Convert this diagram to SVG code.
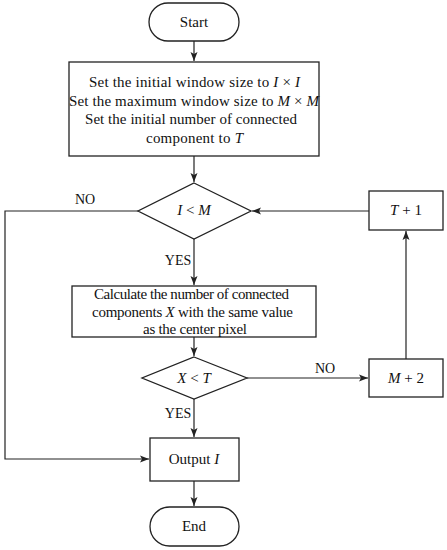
<svg xmlns="http://www.w3.org/2000/svg" width="447" height="550" viewBox="0 0 447 550">
<defs>
<style>
.s{fill:#fff;stroke:#222;stroke-width:1.3}
.c{fill:none;stroke:#222;stroke-width:1.2}
text{font-family:"Liberation Serif","DejaVu Serif",serif;font-size:15px;fill:#111;text-anchor:middle}
.i{font-style:italic}
.l{font-size:14px}
</style>
<marker id="a" markerWidth="10" markerHeight="8" refX="9" refY="4" orient="auto" markerUnits="userSpaceOnUse">
<path d="M0,0.5 L9,4 L0,7.5 L2,4 Z" fill="#222"/>
</marker>
</defs>
<rect width="447" height="550" fill="#fff"/>
<g id="connectors">
<line class="c" x1="194" y1="41" x2="194" y2="61" marker-end="url(#a)"/>
<line class="c" x1="194" y1="156" x2="194" y2="182" marker-end="url(#a)"/>
<line class="c" x1="194" y1="239" x2="194" y2="285" marker-end="url(#a)"/>
<line class="c" x1="194" y1="337" x2="194" y2="356" marker-end="url(#a)"/>
<line class="c" x1="194" y1="399" x2="194" y2="437" marker-end="url(#a)"/>
<line class="c" x1="194" y1="481" x2="194" y2="506" marker-end="url(#a)"/>
<polyline class="c" points="138,211 5,211 5,459 149,459" marker-end="url(#a)"/>
<line class="c" x1="369" y1="211" x2="252" y2="211" marker-end="url(#a)"/>
<line class="c" x1="247" y1="378" x2="368" y2="378" marker-end="url(#a)"/>
<line class="c" x1="406" y1="359" x2="406" y2="231" marker-end="url(#a)"/>
<text class="l" x="85" y="204">NO</text>
<text class="l" x="178" y="265">YES</text>
<text class="l" x="325" y="373">NO</text>
<text class="l" x="178" y="418">YES</text>
</g>
<g id="start">
<rect class="s" x="149" y="3" width="90" height="38" rx="19"/>
<text x="194" y="27">Start</text>
</g>
<g id="init">
<rect class="s" x="69" y="62" width="250" height="94"/>
<text x="194.5" y="87" textLength="211" lengthAdjust="spacing">Set the initial window size to <tspan class="i">I</tspan> × <tspan class="i">I</tspan></text>
<text x="194" y="106" textLength="250" lengthAdjust="spacing">Set the maximum window size to <tspan class="i">M</tspan> × <tspan class="i">M</tspan></text>
<text x="191" y="124" textLength="212" lengthAdjust="spacing">Set the initial number of connected</text>
<text x="194.5" y="143" textLength="97" lengthAdjust="spacing">component to <tspan class="i">T</tspan></text>
</g>
<g id="cond1">
<polygon class="s" points="194,183 251,211 194,239 138,211"/>
<text x="194" y="215"><tspan class="i">I</tspan> &lt; <tspan class="i">M</tspan></text>
</g>
<g id="t1">
<rect class="s" x="369" y="191" width="74" height="39"/>
<text x="406" y="215"><tspan class="i">T</tspan> + 1</text>
</g>
<g id="calc">
<rect class="s" x="72" y="286" width="244" height="51"/>
<text x="191.5" y="299" textLength="195" lengthAdjust="spacing">Calculate the number of connected</text>
<text x="192.5" y="317" textLength="201" lengthAdjust="spacing">components <tspan class="i">X</tspan> with the same value</text>
<text x="195" y="334" textLength="104" lengthAdjust="spacing">as the center pixel</text>
</g>
<g id="cond2">
<polygon class="s" points="194,357 247,378 194,399 142,378"/>
<text x="194" y="383"><tspan class="i">X</tspan> &lt; <tspan class="i">T</tspan></text>
</g>
<g id="m2">
<rect class="s" x="369" y="359" width="74" height="38"/>
<text x="406" y="383"><tspan class="i">M</tspan> + 2</text>
</g>
<g id="output">
<rect class="s" x="150" y="438" width="89" height="43"/>
<text x="194" y="464">Output <tspan class="i">I</tspan></text>
</g>
<g id="end">
<rect class="s" x="150" y="507" width="89" height="39" rx="19.5"/>
<text x="194" y="531">End</text>
</g>
</svg>
